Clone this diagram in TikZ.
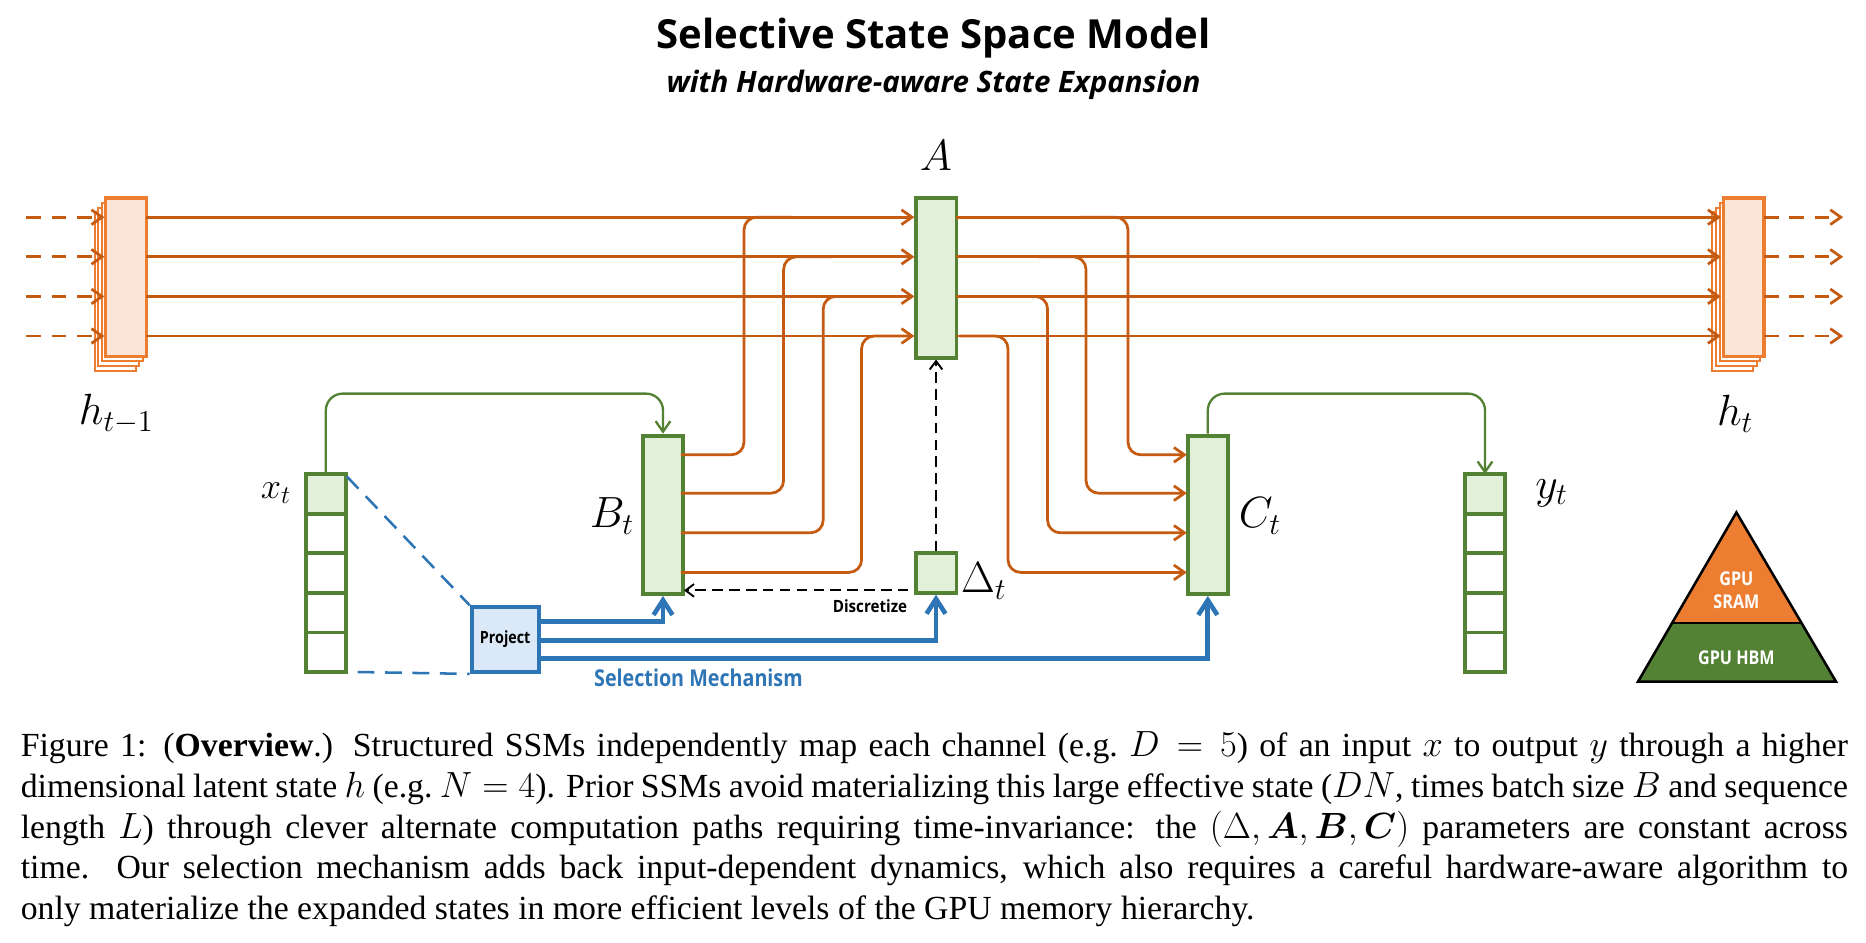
\documentclass[tikz,border=0pt]{standalone}
\usepackage{fontspec}
\usepackage{amsmath,bm}
\setmainfont{Liberation Serif}
\newfontfamily\osans{Open Sans}
\usetikzlibrary{arrows.meta,calc}
\definecolor{orl}{HTML}{C55A11}
\definecolor{orb}{HTML}{ED7D31}
\definecolor{orf}{HTML}{FBE5D6}
\definecolor{grb}{HTML}{548235}
\definecolor{grf}{HTML}{E2F0D9}
\definecolor{blb}{HTML}{2E75B6}
\definecolor{blf}{HTML}{DAE8F7}
\begin{document}
\begin{tikzpicture}[x=0.02cm,y=-0.02cm,
  ol/.style={orl,line width=1.3pt,rounded corners=6pt},
  oa/.style={ol,-{Straight Barb[length=5pt,width=7pt]}},
  od/.style={oa,dash pattern=on 7pt off 5pt},
  gbox/.style={draw=grb,fill=grf,line width=1.8pt},
  wbox/.style={draw=grb,fill=white,line width=1.8pt},
  obox/.style={draw=orb,fill=orf,line width=1.5pt},
  ga/.style={grb,line width=1.1pt,rounded corners=8pt,-{Straight Barb[length=5pt,width=7pt]}},
  ba/.style={blb,line width=2.2pt,-{Straight Barb[length=7pt,width=9pt]}},
  lbl/.style={font=\osans\bfseries},
  mlab/.style={font=\fontsize{20}{24}\selectfont}]
\useasboundingbox (0,0) rectangle (1555,785);
% title
\node[font=\osans\bfseries\fontsize{19}{22}\selectfont] (title) at (778,32) {Selective State Space Model};
\node[font=\osans\bfseries\itshape\fontsize{14}{17}\selectfont] (sub) at (778,71) {with Hardware-aware State Expansion};
% h stacks
\foreach \k in {3,2,1} \draw[obox,fill=white,line width=1pt] (88-3*\k,165+4*\k) rectangle (122-3*\k,297+4*\k);
\draw[obox] (88,165) rectangle (122,297);
\foreach \k in {3,2,1} \draw[obox,fill=white,line width=1pt] (1436-3*\k,165+4*\k) rectangle (1470-3*\k,297+4*\k);
\draw[obox] (1436,165) rectangle (1470,297);
\node[font=\fontsize{22}{26}\selectfont] (hlab1) at (97,345) {$h_{t-1}$};
\node[font=\fontsize{22}{26}\selectfont] (hlab2) at (1446,345) {$h_t$};
% boxes
\node[gbox,minimum width=34*0.02cm,minimum height=133*0.02cm,inner sep=0] (A) at (780,231.5) {};
\node[mlab] at (780,130) {$A$};
\node[gbox,minimum width=33*0.02cm,minimum height=132*0.02cm,inner sep=0] (B) at (552.5,429) {};
\node[mlab] at (510,430) {$B_t$};
\node[gbox,minimum width=33*0.02cm,minimum height=132*0.02cm,inner sep=0] (C) at (1006.5,429) {};
\node[mlab] at (1050,430) {$C_t$};
\node[gbox,minimum width=34*0.02cm,minimum height=33*0.02cm,inner sep=0] (D) at (780,477.5) {};
\node[mlab] at (820,484) {$\Delta_t$};
% orange lines
\foreach \y [count=\i] in {181,214,247,280}{
  \draw[od] (22,\y) -- (87,\y);
  \draw[oa] (122,\y) -- (762,\y);
  \draw[oa] (797,\y) -- (1434,\y);
  \draw[od] (1470,\y) -- (1536,\y);
}
\foreach \yb/\xb/\ya in {379/620/181,411/653/214,444/686/247,477/718/280}
  \draw[ol] (B.west |- 0,\yb) ++(33,0) -- (\xb,\yb) -- (\xb,\ya) -- (\xb+40,\ya);
\foreach \yb/\xb/\ya in {379/940/181,411/905/214,444/873/247,477/840/280}
  \draw[oa] (\xb-40,\ya) -- (\xb,\ya) -- (\xb,\yb) -- (989,\yb);
% x_t and y_t columns
\foreach \c/\x in {xc/255,yc/1221}{
  \draw[gbox] (\x,395) rectangle (\x+33,428);
  \foreach \j in {1,2,3,4} \draw[wbox] (\x,395+33*\j) rectangle (\x+33,428+33*\j);
}
\coordinate (xt) at (271.5,395);
\coordinate (yt) at (1237.5,395);
\node[font=\fontsize{17}{20}\selectfont] at (230,411) {$x_t$};
\node[mlab] at (1293,411) {$y_t$};
\draw[ga] (xt) -- (271.5,328) -- (552.5,328) -- (B.north);
\draw[ga] (C.north) -- (1006.5,328) -- (1237.5,328) -- (yt);
% project
\node[draw=blb,fill=blf,line width=1.8pt,minimum width=56*0.02cm,minimum height=54*0.02cm,inner sep=0] (P) at (421,533) {};
\node[font=\osans\bfseries\fontsize{8}{10}\selectfont,xscale=0.85] at (P) {Project};
\draw[blb,line width=1.2pt,dash pattern=on 8pt off 5pt] (289,397) -- (P.north west);
\draw[blb,line width=1.2pt,dash pattern=on 8pt off 5pt] (298,560) -- (P.south west);
\draw[ba] (P.east |- 0,518) -- (552.5,518) -- (B.south);
\draw[ba] (P.east |- 0,534) -- (780,534) -- (D.south);
\draw[ba] (P.east |- 0,549) -- (1006.5,549) -- (C.south);
\node[text=blb,font=\osans\bfseries\fontsize{11}{13}\selectfont,xscale=0.85] at (582,565) {Selection Mechanism};
% discretize
\draw[black,line width=0.9pt,dash pattern=on 5pt off 3pt,-{Straight Barb[length=4pt,width=6pt]}] (D.north) -- (A.south);
\draw[black,line width=0.9pt,dash pattern=on 5pt off 3pt,-{Straight Barb[length=4pt,width=6pt]}] (757,492) -- (570,492);
\node[font=\osans\bfseries\fontsize{8}{10}\selectfont,xscale=0.9] at (725,505) {Discretize};
% pyramid
\fill[orb] (1447,427) -- (1501,519) -- (1393,519) -- cycle;
\fill[grb] (1393,519) -- (1501,519) -- (1530,568) -- (1365,568) -- cycle;
\draw[black,line width=1.2pt] (1447,427) -- (1530,568) -- (1365,568) -- cycle;
\draw[black,line width=1.2pt] (1393,519) -- (1501,519);
\node[text=white,font=\osans\bfseries\fontsize{9}{11}\selectfont,align=center,xscale=0.85] at (1447,492) {GPU\\SRAM};
\node[text=white,font=\osans\bfseries\fontsize{9}{11}\selectfont,xscale=0.85] at (1447,548) {GPU HBM};
% caption
\begin{scope}[every node/.style={anchor=west,inner sep=0,font=\fontsize{16}{19}\selectfont}]
\node at (17,623) {\makebox[30.46cm][s]{Figure 1: (\textbf{Overview}.) Structured SSMs independently map each channel (e.g.\ $D=5$) of an input $x$ to output $y$ through a higher}};
\node at (17,657) {\makebox[30.46cm][s]{dimensional latent state $h$ (e.g.\ $N=4$). Prior SSMs avoid materializing this large effective state ($DN$, times batch size $B$ and sequence}};
\node at (17,691) {\makebox[30.46cm][s]{length $L$) through clever alternate computation paths requiring time-invariance: the $(\Delta,\bm{A},\bm{B},\bm{C})$ parameters are constant across}};
\node at (17,725) {\makebox[30.46cm][s]{time. Our selection mechanism adds back input-dependent dynamics, which also requires a careful hardware-aware algorithm to}};
\node at (17,759) {only materialize the expanded states in more efficient levels of the GPU memory hierarchy.};
\end{scope}
\end{tikzpicture}
\end{document}
